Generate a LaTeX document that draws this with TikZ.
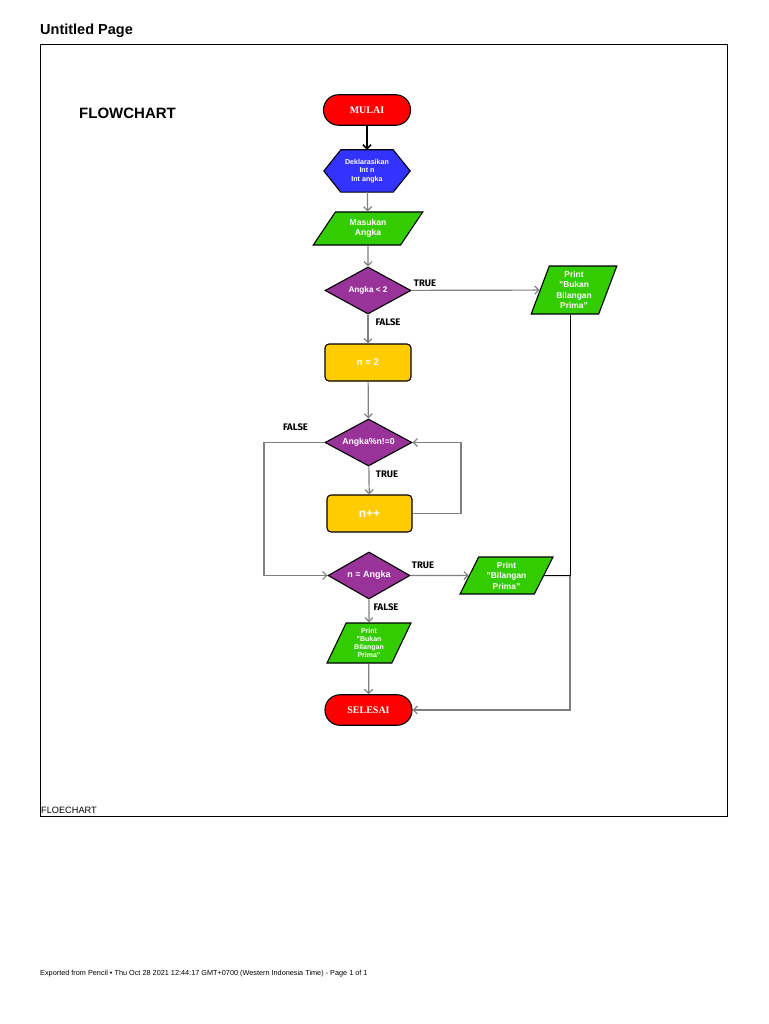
\documentclass[tikz,border=0pt]{standalone}
\usepackage{fontspec}
\setmainfont{Liberation Sans}
\newfontfamily\serifbold{Liberation Serif}
\newfontfamily\handfont{Fira Sans}
\usetikzlibrary{shapes.geometric,shapes.misc,arrows.meta}
\definecolor{ored}{HTML}{FF0000}
\definecolor{oblue}{HTML}{3333FF}
\definecolor{ogreen}{HTML}{33CC00}
\definecolor{opurple}{HTML}{993399}
\definecolor{oyellow}{HTML}{FFCC00}
\definecolor{lgrey}{HTML}{808080}
\tikzset{
  x=1pt,y=-1pt,
  box/.style={draw=black,line width=1.1pt,text=white,inner sep=0pt,align=center,font=\fontsize{8.7}{12}\selectfont\bfseries},
  pill/.style={box,fill=ored,rounded corners=15pt,minimum width=87pt,minimum height=30.5pt,font=\fontsize{10}{12}\serifbold\bfseries},
  para/.style={box,fill=ogreen,trapezium,trapezium stretches=true,trapezium left angle=#1,trapezium right angle=180-#1},
  dia/.style={box,fill=opurple,diamond,aspect=1.8,minimum width=86pt,minimum height=47pt},
  proc/.style={box,fill=oyellow,rounded corners=4pt,minimum width=86pt,minimum height=37pt},
  conn/.style={draw=lgrey,line width=1.2pt,-{Straight Barb[length=4pt,width=8pt]}},
  blk/.style={draw=black,line width=1pt},
  lab/.style={inner sep=0pt,font=\fontsize{9.5}{11}\handfont\bfseries},
  txt/.style={inner sep=0pt,anchor=west}
}
\begin{document}
\begin{tikzpicture}
\useasboundingbox (0,0) rectangle (768,1024);
\fill[white] (0,0) rectangle (768,1024);
\node[txt,font=\fontsize{14.5}{16}\selectfont\bfseries] (title) at (40,30.5) {Untitled Page};
\node[draw=black,line width=.8pt,minimum width=687pt,minimum height=772pt,inner sep=0pt] (frame) at (383.7,430) {};
\node[txt,font=\fontsize{15}{16}\selectfont\bfseries] (heading) at (79,113.5) {FLOWCHART};
\node[txt,font=\fontsize{9.2}{12}\selectfont] (flo) at (41,810.5) {FLOECHART};
\node[txt,font=\fontsize{7.3}{9}\selectfont] (foot) at (40,973.5) {Exported from Pencil • Thu Oct 28 2021 12:44:17 GMT+0700 (Western Indonesia Time) - Page 1 of 1};

\node[pill] (mulai) at (367,110) {MULAI};
\node[inner sep=0pt,minimum width=86pt,minimum height=42pt] (dek) at (367,171) {};
\filldraw[fill=oblue,draw=black,line width=1.1pt] (dek.west) -- ([xshift=17pt]dek.north west) -- ([xshift=-17pt]dek.north east) -- (dek.east) -- ([xshift=-17pt]dek.south east) -- ([xshift=17pt]dek.south west) -- cycle;
\node[text=white,align=center,inner sep=0pt,font=\fontsize{7.1}{8.6}\selectfont\bfseries] (dektext) at (dek.center) {Deklarasikan\\Int n\\Int angka};
\node[para=56,minimum width=110pt,minimum height=33pt,font=\fontsize{8.6}{10.5}\selectfont\bfseries] (mas) at (368,228.5) {Masukan\\Angka};
\node[dia,font=\fontsize{8.2}{10}\selectfont\bfseries] (d1) at (368,290.5) {Angka < 2};
\node[para=70.5,minimum width=86pt,minimum height=48pt,font=\fontsize{8.4}{10.2}\selectfont\bfseries] (pb1) at (574,290) {Print\\"Bukan\\Bilangan\\Prima"};
\node[proc,font=\fontsize{9.6}{12}\selectfont\bfseries] (n2) at (368,362.5) {n = 2};
\node[dia,minimum width=87pt,font=\fontsize{8.7}{10}\selectfont\bfseries] (d2) at (368.5,442.5) {Angka\%n!=0};
\node[proc,minimum width=85pt,font=\fontsize{12}{15}\selectfont\bfseries] (npp) at (369.5,513.5) {n++};
\node[dia,minimum width=82pt,font=\fontsize{9}{10}\selectfont\bfseries] (d3) at (369,575.5) {n = Angka};
\node[para=64,minimum width=93pt,minimum height=37pt,font=\fontsize{8.4}{10.5}\selectfont\bfseries] (pb) at (506.5,575.5) {Print\\"Bilangan\\Prima"};
\node[para=67,minimum width=84pt,minimum height=40pt,font=\fontsize{7}{8}\selectfont\bfseries] (pb2) at (369,643) {Print\\"Bukan\\Bilangan\\Prima"};
\node[pill] (sel) at (368.5,710) {SELESAI};

\coordinate (cl) at (264,442.5);
\coordinate (cr) at (461,513.5);
\coordinate (jn) at (570,575.5);

\draw[blk,line width=1.6pt,-{Straight Barb[length=4pt,width=8pt]}] (mulai) -- (dek);
\draw[conn] (dek) -- (mas);
\draw[conn] (mas) -- (d1);
\draw[conn] (d1) -- (n2);
\draw[conn] (d1) -- (pb1);
\draw[conn] (n2) -- (d2);
\draw[conn] (d2) -- (npp);
\draw[conn] (npp.east) -- (cr) |- (d2.east);
\draw[conn] (d2.west) -- (cl) |- (d3.west);
\draw[conn] (d3) -- (pb);
\draw[conn] (d3) -- (pb2);
\draw[conn] (pb2) -- (sel);
\draw[blk] (pb) -- (jn);
\draw[blk] (pb1.south -| jn) -- (jn);
\draw[conn] (jn) |- (sel.east);

\node[lab] (t1) at (425,283) {TRUE};
\node[lab] (f1) at (388,322) {FALSE};
\node[lab] (f2) at (295.5,427) {FALSE};
\node[lab] (t2) at (387,474) {TRUE};
\node[lab] (t3) at (423,565) {TRUE};
\node[lab] (f3) at (386,607.5) {FALSE};
\end{tikzpicture}
\end{document}
